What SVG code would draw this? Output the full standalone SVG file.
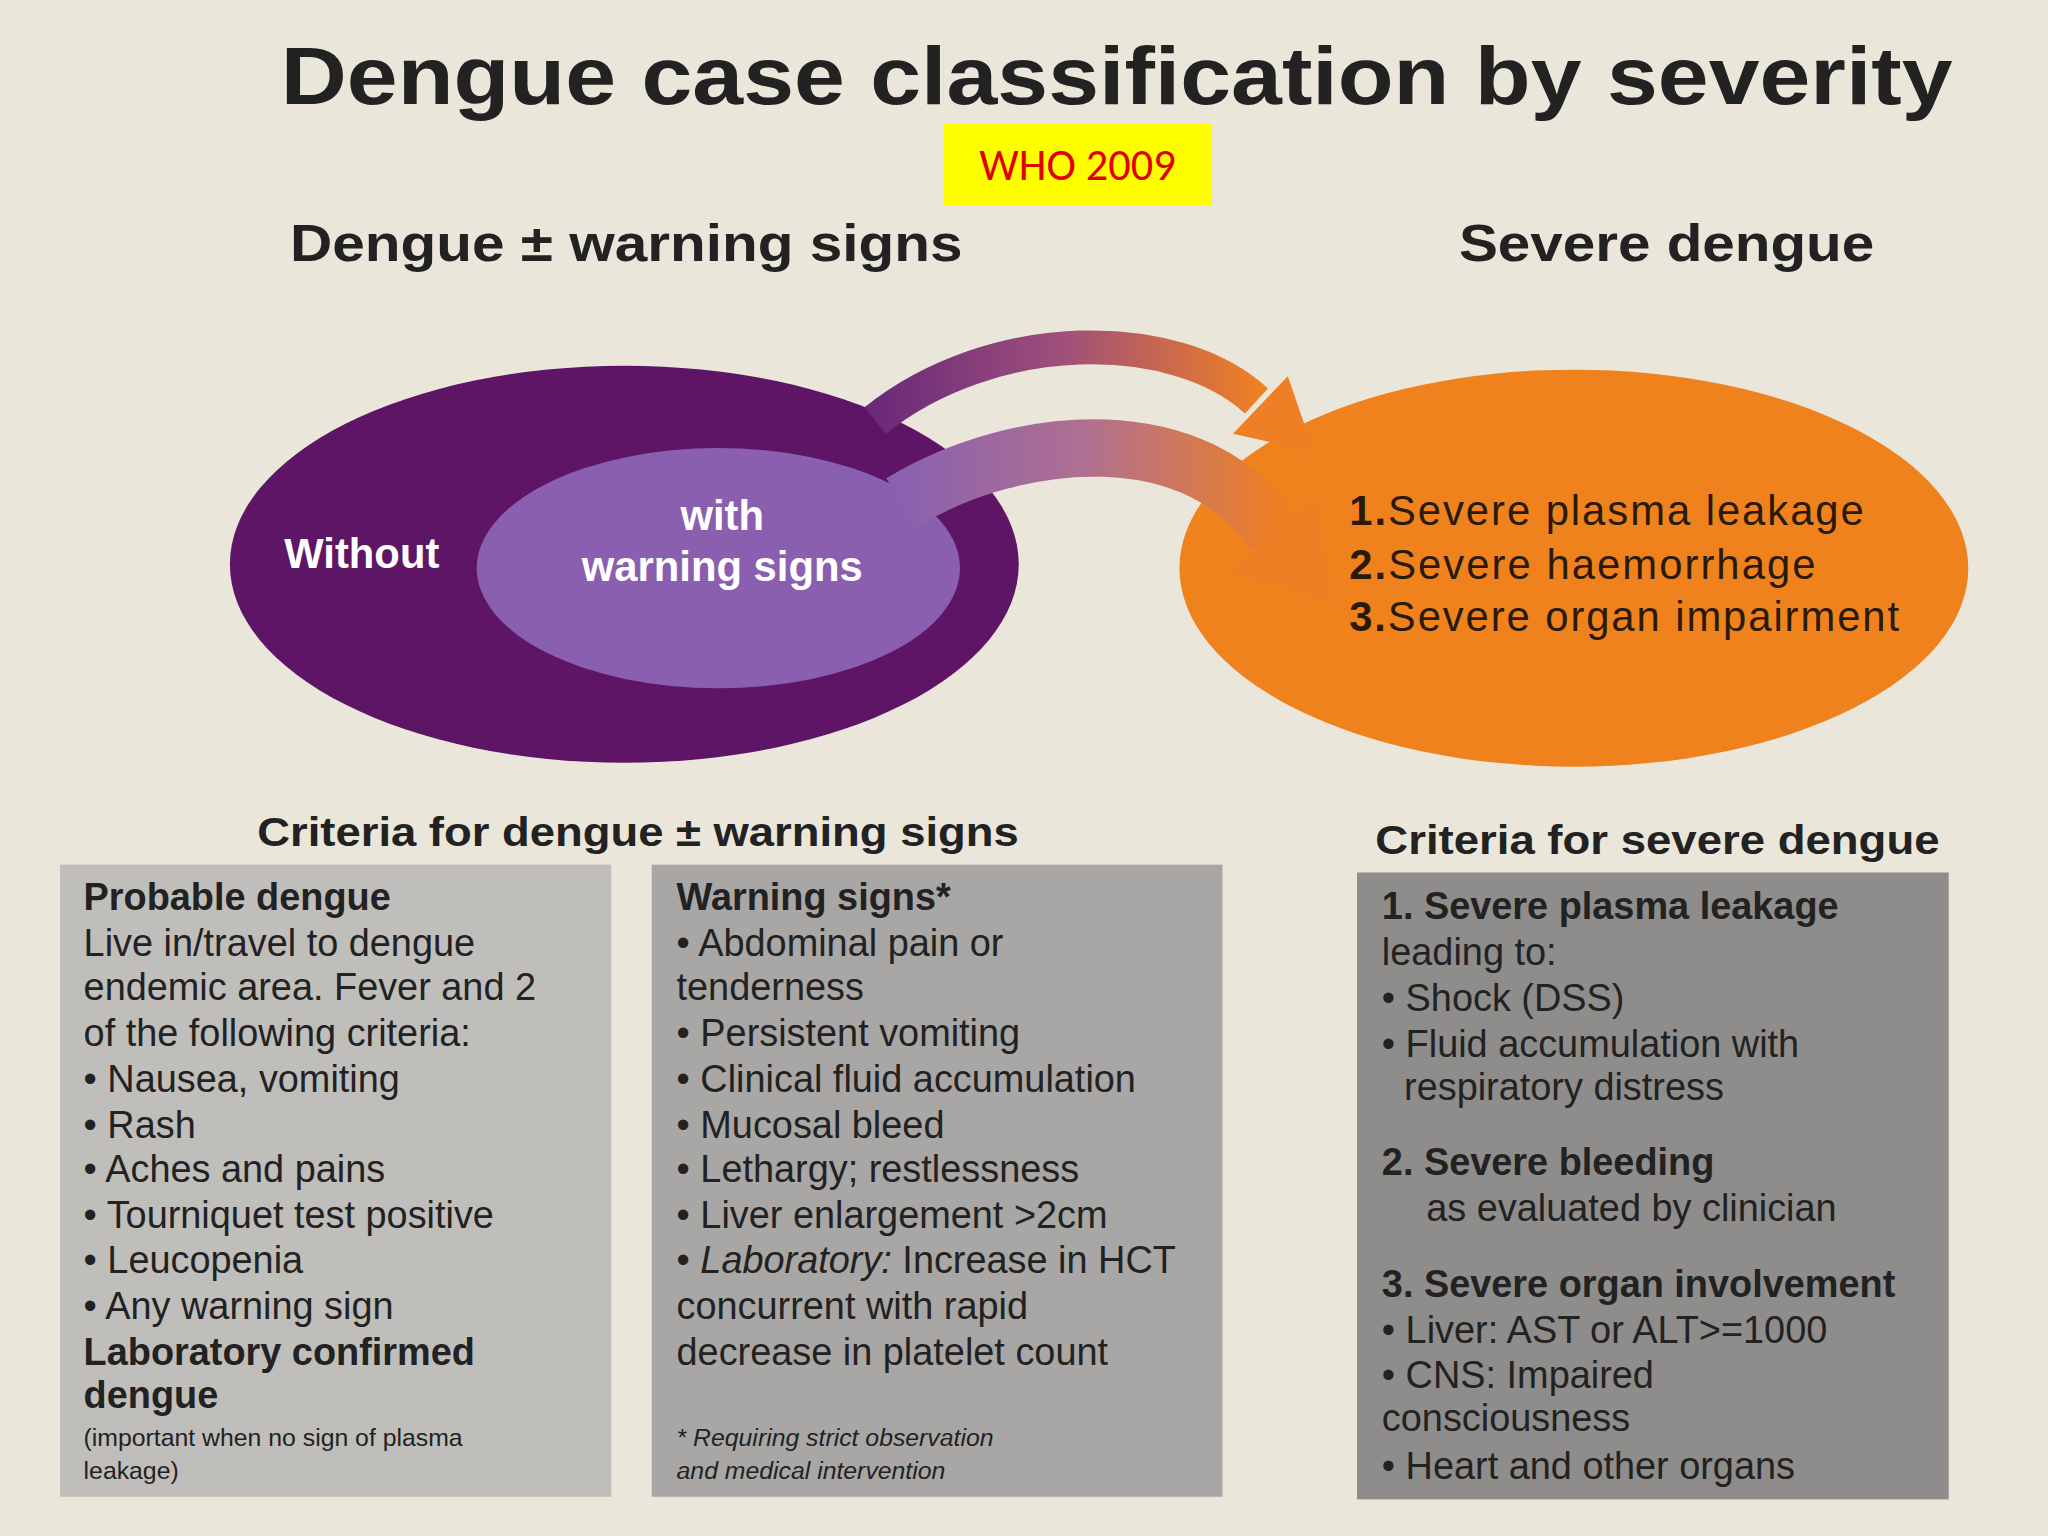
<svg xmlns="http://www.w3.org/2000/svg" width="2048" height="1536" viewBox="0 0 2048 1536">
<style>
text{font-family:"Liberation Sans",Arial,sans-serif;fill:#222}
.b{font-weight:bold}
.t{font-size:29px}
.w{fill:#fff;font-weight:bold;font-size:32px}
.o{fill:#2a1a0a;font-size:32px}
</style>
<defs>
<linearGradient id="g" x1="0" y1="0" x2="1" y2="0">
<stop offset="0" stop-color="#6a2a7a"/><stop offset="0.5" stop-color="#a0507a"/><stop offset="1" stop-color="#ee7f25"/>
</linearGradient>
<linearGradient id="g2" x1="0" y1="0" x2="1" y2="0">
<stop offset="0" stop-color="#8a60b0"/><stop offset="0.5" stop-color="#b07090"/><stop offset="1" stop-color="#ee7f25"/>
</linearGradient>
</defs>
<rect width="2048" height="1536" fill="#ebe6da"/>
<g transform="scale(1.3061)">
<g id="title">
<text x="215" y="80" textLength="1280" lengthAdjust="spacingAndGlyphs" class="b" font-size="62" fill="#111">Dengue case classification by severity</text>
<rect x="722" y="95" width="206" height="62" fill="#ffff00"/>
<text x="825" y="138" text-anchor="middle" font-size="34" style="fill:#e00000;font-family:Carlito,'Liberation Sans',sans-serif">WHO 2009</text>
<text x="222" y="200" textLength="515" lengthAdjust="spacingAndGlyphs" class="b" font-size="40">Dengue ± warning signs</text>
<text x="1117" y="200" textLength="318" lengthAdjust="spacingAndGlyphs" class="b" font-size="40">Severe dengue</text>
</g>
<g id="dengue">
<ellipse cx="478" cy="432" rx="302" ry="152" fill="#5e1566"/>
<text x="277" y="435" text-anchor="middle" class="w">Without</text>
</g>
<g id="warning">
<ellipse cx="550" cy="435" rx="185" ry="92" fill="#8a5fb0"/>
<text x="553" y="406" text-anchor="middle" class="w">with</text>
<text x="553" y="445" text-anchor="middle" class="w">warning signs</text>
</g>
<g id="severe">
<ellipse cx="1205" cy="435" rx="302" ry="152" fill="#f0821e"/>
<text x="1033" y="402" class="o" textLength="394"><tspan font-weight="bold">1.</tspan>Severe plasma leakage</text>
<text x="1033" y="443" class="o" textLength="357"><tspan font-weight="bold">2.</tspan>Severe haemorrhage</text>
<text x="1033" y="483" class="o" textLength="421"><tspan font-weight="bold">3.</tspan>Severe organ impairment</text>
</g>
<g id="connectors">
<path d="M670,322 C760,250 900,250 962,307" fill="none" stroke="url(#g)" stroke-width="26"/>
<polygon points="944,332 1006,346 986,288" fill="#ee7f25"/>
<path d="M690,385 C780,330 920,320 976,410" fill="none" stroke="url(#g2)" stroke-width="44"/>
<polygon points="943,438 1020,460 1007,382" fill="#ee7f25"/>
</g>
<g id="crit-left">
<text x="197" y="648" textLength="583" lengthAdjust="spacingAndGlyphs" class="b" font-size="31">Criteria for dengue ± warning signs</text>
<rect x="46" y="662" width="422" height="484" fill="#c0bebb"/>
<text class="t" x="64"><tspan y="697" class="b">Probable dengue</tspan><tspan x="64" y="732">Live in/travel to dengue</tspan><tspan x="64" y="766">endemic area. Fever and 2</tspan><tspan x="64" y="801">of the following criteria:</tspan><tspan x="64" y="836">• Nausea, vomiting</tspan><tspan x="64" y="871">• Rash</tspan><tspan x="64" y="905">• Aches and pains</tspan><tspan x="64" y="940">• Tourniquet test positive</tspan><tspan x="64" y="975">• Leucopenia</tspan><tspan x="64" y="1010">• Any warning sign</tspan><tspan x="64" y="1045" class="b">Laboratory confirmed</tspan><tspan x="64" y="1078" class="b">dengue</tspan></text>
<text x="64" y="1107" font-size="19">(important when no sign of plasma</text>
<text x="64" y="1132" font-size="19">leakage)</text>
</g>
<g id="crit-mid">
<rect x="499" y="662" width="437" height="484" fill="#a9a7a5"/>
<text class="t" x="518"><tspan y="697" class="b">Warning signs*</tspan><tspan x="518" y="732">• Abdominal pain or</tspan><tspan x="518" y="766">tenderness</tspan><tspan x="518" y="801">• Persistent vomiting</tspan><tspan x="518" y="836">• Clinical fluid accumulation</tspan><tspan x="518" y="871">• Mucosal bleed</tspan><tspan x="518" y="905">• Lethargy; restlessness</tspan><tspan x="518" y="940">• Liver enlargement &gt;2cm</tspan><tspan x="518" y="975">• <tspan font-style="italic">Laboratory:</tspan> Increase in HCT</tspan><tspan x="518" y="1010">concurrent with rapid</tspan><tspan x="518" y="1045">decrease in platelet count</tspan></text>
<text x="518" y="1107" font-size="19" font-style="italic">* Requiring strict observation</text>
<text x="518" y="1132" font-size="19" font-style="italic">and medical intervention</text>
</g>
<g id="crit-right">
<text x="1053" y="654" textLength="432" lengthAdjust="spacingAndGlyphs" class="b" font-size="31">Criteria for severe dengue</text>
<rect x="1039" y="668" width="453" height="480" fill="#8f8d8b"/>
<text class="t" x="1058"><tspan y="704" class="b">1. Severe plasma leakage</tspan><tspan x="1058" y="739">leading to:</tspan><tspan x="1058" y="774">• Shock (DSS)</tspan><tspan x="1058" y="809">• Fluid accumulation with</tspan><tspan x="1075" y="842">respiratory distress</tspan><tspan x="1058" y="900" class="b">2. Severe bleeding</tspan><tspan x="1092" y="935">as evaluated by clinician</tspan><tspan x="1058" y="993" class="b">3. Severe organ involvement</tspan><tspan x="1058" y="1028">• Liver: AST or ALT&gt;=1000</tspan><tspan x="1058" y="1063">• CNS: Impaired</tspan><tspan x="1058" y="1096">consciousness</tspan><tspan x="1058" y="1132">• Heart and other organs</tspan></text>
</g>
</g>
</svg>
